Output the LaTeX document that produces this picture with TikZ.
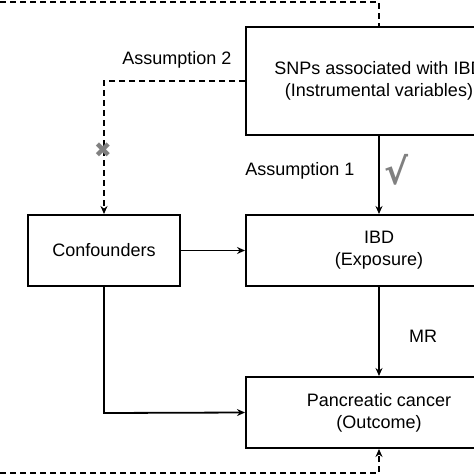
\documentclass[tikz,border=0pt]{standalone}
\usepackage{fontspec}
\setmainfont{Liberation Sans}
\newfontfamily\symfont{DejaVu Sans}
\usetikzlibrary{arrows.meta}
\begin{document}
\begin{tikzpicture}[x=1pt,y=-1pt]

\tikzstyle{box}=[draw,line width=2pt,minimum height=71pt,align=center,inner sep=0pt,font=\fontsize{18}{22}\selectfont]
\tikzstyle{lnk}=[line width=1.8pt,-{Stealth[length=8pt,width=7pt]}]
\tikzstyle{dsh}=[lnk,dash pattern=on 6pt off 4pt]
\tikzstyle{lbl}=[font=\fontsize{18}{22}\selectfont]

\useasboundingbox (0,0) rectangle (474,474);
\clip (0,0) rectangle (474,474);

\node[box,minimum width=266pt,minimum height=108pt] (snp) at (379,81) {SNPs associated with IBD\\(Instrumental variables)};
\node[box,minimum width=266pt] (ibd) at (379,250.5) {IBD\\(Exposure)};
\node[box,minimum width=266pt] (pc) at (379,412.5) {Pancreatic cancer\\(Outcome)};
\node[box,minimum width=152pt] (conf) at (104,250.5) {Confounders};

\node[shape=coordinate] (tl) at (0,2){};
\node[shape=coordinate] (tr) at (379,2){};
\node[shape=coordinate] (bl) at (0,473){};
\node[shape=coordinate] (br) at (379,473){};
\node[shape=coordinate] (ak) at (104,81){};
\node[shape=coordinate] (ck) at (104,413){};

\draw[dsh,-] (tl)--(tr)--(snp.north);
\draw[dsh] (bl)--(br)--(pc.south);
\draw[dsh] (snp.west)--(ak)--(conf.north);
\draw[lnk] (snp.south)--(ibd.north);
\draw[lnk] (conf.east)--(ibd.west);
\draw[lnk] (ibd.south)--(pc.north);
\draw[lnk] (conf.south)--(ck)--(pc.west);

\node[lbl] (a2) at (177,60) {Assumption 2};
\node[lbl] (a1) at (300,171) {Assumption 1};
\node[lbl] (mr) at (423,336) {MR};
\node[gray,font=\symfont\bfseries\fontsize{36}{36}\selectfont] (ok) at (397,170) {√};
\node[gray,font=\symfont\fontsize{21}{21}\selectfont] (no) at (103,150) {✖};

\end{tikzpicture}
\end{document}
